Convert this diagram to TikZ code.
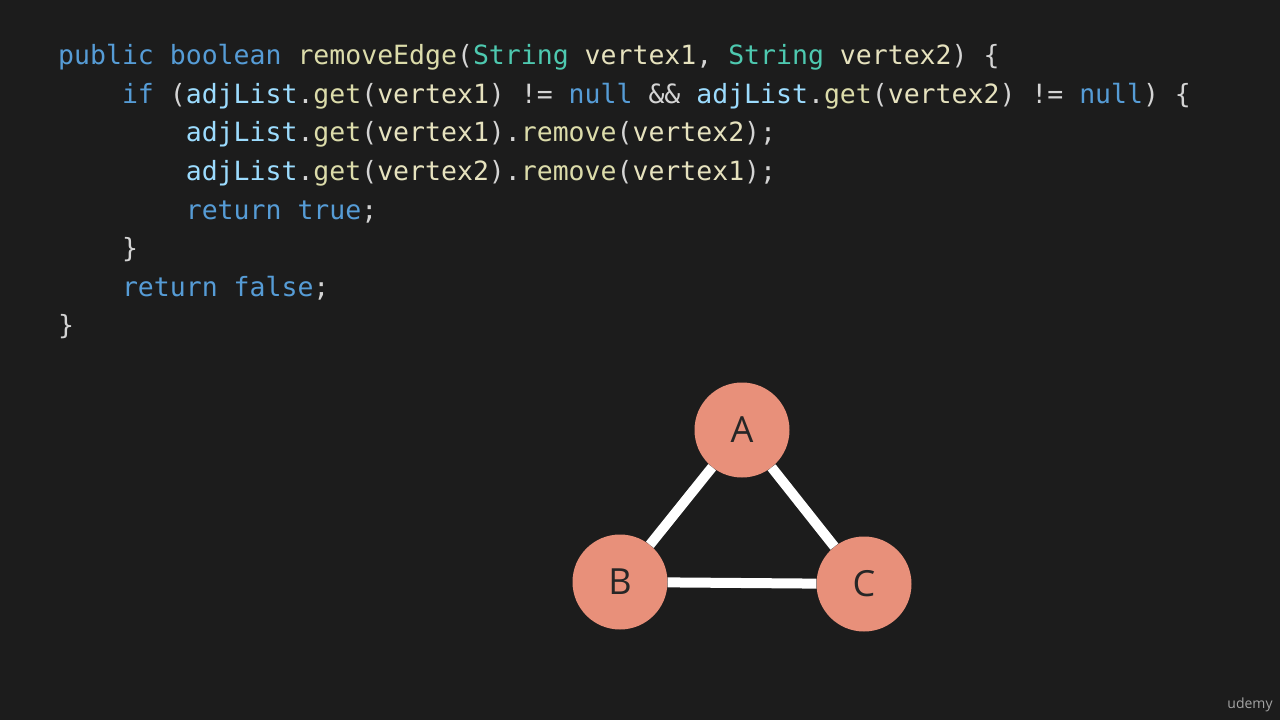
\documentclass[tikz,border=0pt]{standalone}
\usepackage{fontspec}
\setmonofont{DejaVu Sans Mono}
\setsansfont{Open Sans}
\definecolor{bg}{HTML}{1C1C1C}
\definecolor{kw}{HTML}{569CD6}
\definecolor{ty}{HTML}{4EC9B0}
\definecolor{fn}{HTML}{DCDCAA}
\definecolor{vr}{HTML}{9CDCFE}
\definecolor{pl}{HTML}{D4D4D4}
\definecolor{pa}{HTML}{E6E2BE}
\definecolor{nd}{HTML}{E8907A}
\newcommand{\K}[1]{\textcolor{kw}{#1}}
\newcommand{\T}[1]{\textcolor{ty}{#1}}
\newcommand{\F}[1]{\textcolor{fn}{#1}}
\newcommand{\V}[1]{\textcolor{vr}{#1}}
\newcommand{\PP}[1]{\textcolor{pa}{#1}}
\begin{document}
\begin{tikzpicture}[x=1pt,y=-1pt,
  code/.style={anchor=base west,inner sep=0pt,font=\ttfamily\fontsize{26.5}{30}\selectfont,text=pl},
  vert/.style={circle,fill=nd,minimum size=95pt,inner sep=0pt,font=\sffamily\fontsize{36}{40}\selectfont,text=black!85},
  edge/.style={draw=white,line width=10pt}]
\fill[bg] (0,0) rectangle (1280,720);
\useasboundingbox (0,0) rectangle (1280,720);
\node[code] (l1) at (58,64) {\K{public} \K{boolean} \F{removeEdge}(\T{String} \PP{vertex1}, \T{String} \PP{vertex2}) \{};
\node[code] (l2) at (58,103) {\phantom{xxxx}\K{if} (\V{adjList}.\F{get}(\PP{vertex1}) != \K{null} \&\& \V{adjList}.\F{get}(\PP{vertex2}) != \K{null}) \{};
\node[code] (l3) at (58,141) {\phantom{xxxxxxxx}\V{adjList}.\F{get}(\PP{vertex1}).\F{remove}(\PP{vertex2});};
\node[code] (l4) at (58,180) {\phantom{xxxxxxxx}\V{adjList}.\F{get}(\PP{vertex2}).\F{remove}(\PP{vertex1});};
\node[code] (l5) at (58,219) {\phantom{xxxxxxxx}\K{return} \K{true};};
\node[code] (l6) at (58,257) {\phantom{xxxx}\}};
\node[code] (l7) at (58,296) {\phantom{xxxx}\K{return} \K{false};};
\node[code] (l8) at (58,334) {\}};
\node[vert] (A) at (742,430) {A};
\node[vert] (B) at (620,582) {B};
\node[vert] (C) at (864,584) {C};
\begin{scope}[on background layer/.try]
\end{scope}
\path[edge] (A) -- (B);
\path[edge] (A) -- (C);
\path[edge] (B) -- (C);
\node[font=\sffamily\fontsize{14}{16}\selectfont,text=white!60!bg] (logo) at (1250,705) {udemy};
\end{tikzpicture}
\end{document}
